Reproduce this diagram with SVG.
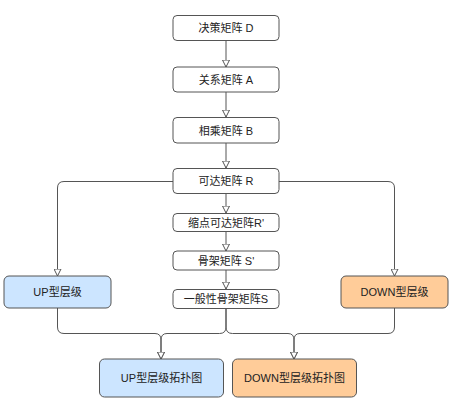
<svg xmlns="http://www.w3.org/2000/svg" width="474" height="413" viewBox="0 0 474 413">
<defs>
<style>
.n{fill:#fff;stroke:#555;stroke-width:1}
.blue{fill:#cce5ff}
.orange{fill:#ffcc99}
.t{font-family:"Liberation Sans","Noto Sans CJK SC",sans-serif;font-size:11px;fill:#222;text-anchor:middle;dominant-baseline:central}
.c{fill:none;stroke:#555;stroke-width:1;marker-end:url(#a)}
</style>
<marker id="a" viewBox="0 0 8 8" refX="7.5" refY="4" markerWidth="8" markerHeight="8" markerUnits="userSpaceOnUse" orient="auto">
<path d="M0.5,0.5 L7.5,4 L0.5,7.5 Z" fill="#fff" stroke="#555" stroke-width="1"/>
</marker>
</defs>
<rect width="474" height="413" fill="#fff"/>
<g id="connectors">
<path class="c" d="M226,41 V67"/>
<path class="c" d="M226,92 V117"/>
<path class="c" d="M226,143 V168"/>
<path class="c" d="M226,193 V213"/>
<path class="c" d="M226,231 V251"/>
<path class="c" d="M226,270 V289"/>
<path class="c" d="M173,181.5 H64 Q57.5,181.5 57.5,188 V276"/>
<path class="c" d="M279,181.5 H388 Q394.5,181.5 394.5,188 V276"/>
<path class="c" d="M57.5,308 V327 Q57.5,333.5 64,333.5 H155 Q161,333.5 161,340 V359"/>
<path class="c" d="M226,308 V327 Q226,333.5 219.5,333.5 H167 Q161,333.5 161,340 V359"/>
<path class="c" d="M226,308 V327 Q226,333.5 232.5,333.5 H288 Q294,333.5 294,340 V359"/>
<path class="c" d="M394.5,308 V327 Q394.5,333.5 388,333.5 H300 Q294,333.5 294,340 V359"/>
</g>
<g id="nD"><rect class="n" x="173" y="15.5" width="106" height="25" rx="4"/><text class="t" x="226" y="28">决策矩阵 D</text></g>
<g id="nA"><rect class="n" x="173" y="67" width="106" height="25" rx="4"/><text class="t" x="226" y="79.5">关系矩阵 A</text></g>
<g id="nB"><rect class="n" x="173" y="117.5" width="106" height="25.5" rx="4"/><text class="t" x="226" y="130.5">相乘矩阵 B</text></g>
<g id="nR"><rect class="n" x="173" y="168.5" width="106" height="25" rx="4"/><text class="t" x="226" y="181">可达矩阵 R</text></g>
<g id="nR2"><rect class="n" x="173" y="213.5" width="106" height="18" rx="4"/><text class="t" x="226" y="222.5">缩点可达矩阵R'</text></g>
<g id="nS2"><rect class="n" x="173" y="251" width="106" height="19" rx="4"/><text class="t" x="226" y="260.5">骨架矩阵 S'</text></g>
<g id="nS"><rect class="n" x="173" y="289.5" width="106" height="19" rx="4"/><text class="t" x="226" y="299">一般性骨架矩阵S</text></g>
<g id="nUP"><rect class="n blue" x="4" y="276" width="107" height="32" rx="5"/><text class="t" x="57.5" y="292">UP型层级</text></g>
<g id="nDOWN"><rect class="n orange" x="341" y="276" width="107" height="32" rx="5"/><text class="t" x="394.5" y="292">DOWN型层级</text></g>
<g id="nUPT"><rect class="n blue" x="99.5" y="359" width="124" height="38" rx="5"/><text class="t" x="161.5" y="378">UP型层级拓扑图</text></g>
<g id="nDOWNT"><rect class="n orange" x="232.5" y="359" width="124" height="38" rx="5"/><text class="t" x="294.5" y="378">DOWN型层级拓扑图</text></g>
</svg>
